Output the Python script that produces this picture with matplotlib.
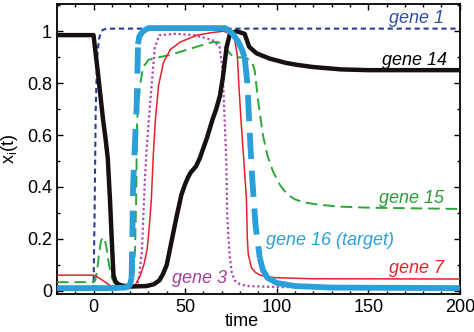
import matplotlib
matplotlib.use('Agg')
import matplotlib.pyplot as plt
from matplotlib.ticker import MultipleLocator

plt.rcParams['font.family'] = ['Liberation Sans', 'DejaVu Sans']
plt.rcParams['mathtext.fontset'] = 'custom'
plt.rcParams['mathtext.rm'] = 'Liberation Sans'

# gene 1 (navy, short dashes)
t1 = [-20, 0, 0.6, 1.2, 2, 3, 4, 5, 7, 10, 200]
y1 = [0.005, 0.005, 0.3, 0.7, 0.9, 0.97, 0.995, 1.005, 1.01, 1.01, 1.01]

# gene 14 (black, thick)
t14 = [-20, 0, 2.4, 5.2, 6.5, 7.8, 9, 10.2, 10.9, 12, 13.5, 15.5, 20, 29, 33, 36, 38, 40, 42.6,
       45.5, 48, 50, 51.5, 53, 56, 58, 60, 62, 65, 67, 69, 70.6, 72.7, 74.5, 78, 82.5, 85, 89,
       96, 105, 111.5, 120, 135, 150, 200]
y14 = [0.985, 0.985, 0.84, 0.66, 0.59, 0.51, 0.35, 0.16, 0.06, 0.035, 0.025, 0.02, 0.016, 0.018,
       0.025, 0.04, 0.065, 0.1, 0.19, 0.29, 0.37, 0.41, 0.435, 0.455, 0.48, 0.51, 0.55, 0.59,
       0.66, 0.7, 0.75, 0.82, 0.94, 0.99, 1.0, 0.99, 0.94, 0.915, 0.895, 0.878, 0.87, 0.862,
       0.853, 0.85, 0.85]

# gene 16 (target, cyan)
t16 = [-20, 0, 10, 17, 19, 20, 20.8, 21.2, 21.6, 22.5, 23.5, 24, 24.3, 25, 27, 30, 40, 60, 72,
       76, 79, 81, 82.5, 84, 85, 86.5, 88.5, 90.8, 92.5, 95, 100, 110, 130, 200]
y16 = [0.01, 0.01, 0.01, 0.012, 0.015, 0.025, 0.05, 0.2, 0.4, 0.55, 0.7, 0.85, 0.95, 0.98, 1.0,
       1.012, 1.012, 1.012, 1.012, 0.99, 0.96, 0.93, 0.9, 0.8, 0.65, 0.45, 0.25, 0.126, 0.08,
       0.05, 0.03, 0.018, 0.012, 0.01]

# gene 7 (red)
t7 = [-20, 0, 1, 5, 9, 12, 15, 20, 22.7, 25.6, 27.5, 29.3, 30.5, 31.6, 32.7, 33.8, 35.5, 38.2,
      42, 47.3, 56.5, 65, 71, 74.5, 77, 78.5, 79.4, 80.5, 82, 83.5, 84, 84.5, 86.3, 88.5, 91,
      95, 100, 120, 200]
y7 = [0.06, 0.06, 0.058, 0.04, 0.02, 0.017, 0.015, 0.015, 0.02, 0.06, 0.1, 0.16, 0.25, 0.355,
      0.53, 0.66, 0.79, 0.88, 0.93, 0.958, 0.985, 0.995, 1.0, 0.99, 0.97, 0.91, 0.79, 0.66,
      0.51, 0.355, 0.2, 0.14, 0.088, 0.07, 0.06, 0.053, 0.05, 0.046, 0.045]

# gene 3 (purple, dotted)
t3 = [-20, 20, 24, 25, 26.5, 27.3, 28, 29, 30.2, 31.7, 33.5, 36, 45, 55, 65, 68.8, 70.5, 71.6,
      72.5, 73, 73.7, 74.5, 75.5, 77, 80, 84, 100, 200]
y3 = [0.012, 0.012, 0.02, 0.06, 0.16, 0.3, 0.42, 0.546, 0.66, 0.79, 0.94, 0.985, 0.99, 0.985,
      0.966, 0.94, 0.85, 0.66, 0.5, 0.3, 0.2, 0.126, 0.07, 0.04, 0.025, 0.018, 0.014, 0.012]

# gene 15 (green, dashed)
t15 = [-20, 0, 1, 2, 3, 4, 5, 6, 7, 8, 9, 10, 11, 12, 13, 15, 18, 20, 21.8, 22.7, 23.3, 23.6,
       23.8, 25.4, 27, 30, 36, 41.5, 47, 54, 60, 65, 68, 70, 72.7, 75, 78, 83, 85, 86.5, 88, 90,
       92.5, 95, 98, 102, 106, 110, 115, 125, 135, 150, 200]
y15 = [0.033, 0.033, 0.04, 0.08, 0.14, 0.19, 0.205, 0.2, 0.17, 0.12, 0.08, 0.05, 0.035, 0.025,
       0.02, 0.015, 0.015, 0.04, 0.06, 0.16, 0.355, 0.546, 0.66, 0.79, 0.86, 0.89, 0.9, 0.908,
       0.92, 0.935, 0.948, 0.958, 0.958, 0.95, 0.93, 0.91, 0.9, 0.898, 0.89, 0.88, 0.85, 0.725,
       0.6, 0.52, 0.46, 0.405, 0.37, 0.352, 0.34, 0.33, 0.324, 0.32, 0.315]

c_navy = '#2b3c98'
c_black = '#161010'
c_cyan = '#2b9fd9'
c_red = '#e8202a'
c_purple = '#b046b0'
c_green = '#2ea63a'

fig = plt.figure(figsize=(4.74, 3.32), dpi=100)
ax = fig.add_axes([0.120, 0.115, 0.850, 0.873])

ax.plot(t1, y1, color=c_navy, lw=1.5, dashes=(2.5, 1.8), zorder=2)
ax.plot(t3, y3, color=c_purple, lw=1.6, linestyle=(0, (1, 1.2)), zorder=3)
ax.plot(t15, y15, color=c_green, lw=1.4, dashes=(6, 3), zorder=3)
ax.plot(t7, y7, color=c_red, lw=1.1, zorder=4)
ax.plot(t14, y14, color=c_black, lw=3.2, zorder=5)

# target: solid on flat parts, long dashes on the steep parts
i_a = t16.index(20.8)
i_b = t16.index(24.3)
i_c = t16.index(82.5)
i_d = t16.index(90.8)
kw = dict(color=c_cyan, lw=4.2, zorder=6)
ax.plot(t16[:i_a + 1], y16[:i_a + 1], solid_capstyle='butt', **kw)
ax.plot(t16[i_a:i_b + 1], y16[i_a:i_b + 1], dashes=(4.5, 2.5), dash_capstyle='butt', **kw)
ax.plot(t16[i_b:i_c + 1], y16[i_b:i_c + 1], solid_capstyle='butt', **kw)
ax.plot(t16[i_c:i_d + 1], y16[i_c:i_d + 1], dashes=(4.5, 2.0), dash_capstyle='butt', **kw)
ax.plot(t16[i_d:], y16[i_d:], solid_capstyle='butt', **kw)

fs = 13
ax.text(191.2, 1.05, 'gene 1', color='#2d4fa5', fontsize=fs, style='italic', ha='right', va='center')
ax.text(192.9, 0.888, 'gene 14', color='black', fontsize=fs, style='italic', ha='right', va='center')
ax.text(191.2, 0.354, 'gene 15', color='#2e9a3a', fontsize=fs, style='italic', ha='right', va='center')
ax.text(164, 0.192, 'gene 16 (target)', color=c_cyan, fontsize=fs, style='italic', ha='right', va='center')
ax.text(191.2, 0.085, 'gene 7', color='#e3262e', fontsize=fs, style='italic', ha='right', va='center')
ax.text(72.8, 0.046, 'gene 3', color='#a0409c', fontsize=fs, style='italic', ha='right', va='center')

ax.set_xlim(-20, 200)
ax.set_ylim(-0.012, 1.105)
ax.set_xticks([0, 50, 100, 150, 200])
ax.set_yticks([0, 0.2, 0.4, 0.6, 0.8, 1.0])
ax.set_yticklabels(['0', '0.2', '0.4', '0.6', '0.8', '1'])
ax.xaxis.set_minor_locator(MultipleLocator(10))
ax.yaxis.set_minor_locator(MultipleLocator(0.1))
ax.tick_params(which='both', direction='in', top=True, right=True, labelsize=fs, width=1.0)
ax.tick_params(which='major', length=4)
ax.tick_params(which='minor', length=2.5)
for s in ax.spines.values():
    s.set_linewidth(1.3)

ax.set_xlabel('time', fontsize=fs)
ax.xaxis.set_label_coords(0.46, -0.065)
ax.set_ylabel('x$_\\mathregular{i}$(t)', fontsize=fs)
ax.yaxis.set_label_coords(-0.092, 0.5)

fig.savefig('out.png', dpi=100)
